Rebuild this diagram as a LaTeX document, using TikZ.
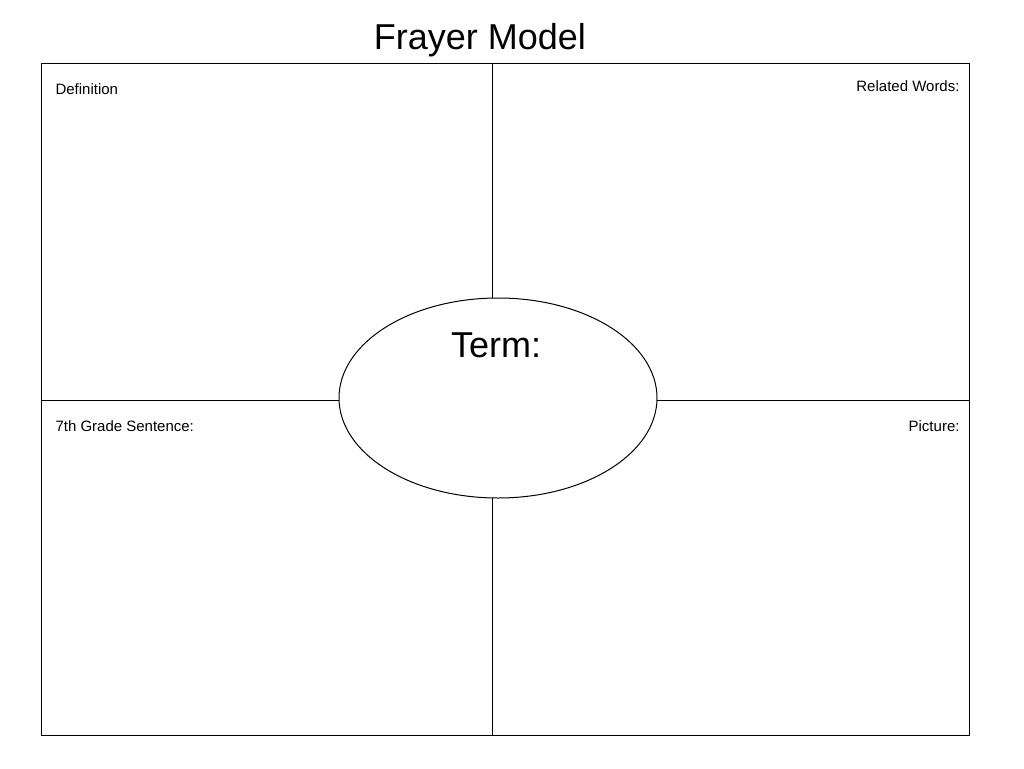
\documentclass[tikz,border=0pt]{standalone}
\usepackage{fontspec}
\setmainfont{Liberation Sans}
\usetikzlibrary{shapes.geometric}
\begin{document}
\begin{tikzpicture}[x=1pt,y=-1pt,line width=1pt,
  lbl/.style={font=\fontsize{15}{18}\selectfont,inner sep=0pt}]
\useasboundingbox (0,0) rectangle (1024,768);
\draw (41,63) rectangle (969,735);
\coordinate (top) at (492,63);
\coordinate (bot) at (492,735);
\coordinate (lft) at (41,400);
\coordinate (rgt) at (969,400);
\draw (top) -- (bot);
\draw (lft) -- (rgt);
\node[draw,fill=white,ellipse,minimum width=318pt,minimum height=200pt,line width=1pt] (term) at (498,398) {};
\node[font=\fontsize{36}{40}\selectfont] (termlbl) at (496,345) {Term:};
\node[font=\fontsize{36}{40}\selectfont] (title) at (480,40) {Frayer Model};
\node[lbl,anchor=west] (def) at (55,89) {Definition};
\node[lbl,anchor=east] (rel) at (960,86) {Related Words:};
\node[lbl,anchor=west] (sent) at (55,426) {7th Grade Sentence:};
\node[lbl,anchor=east] (pic) at (960,426) {Picture:};
\end{tikzpicture}
\end{document}
